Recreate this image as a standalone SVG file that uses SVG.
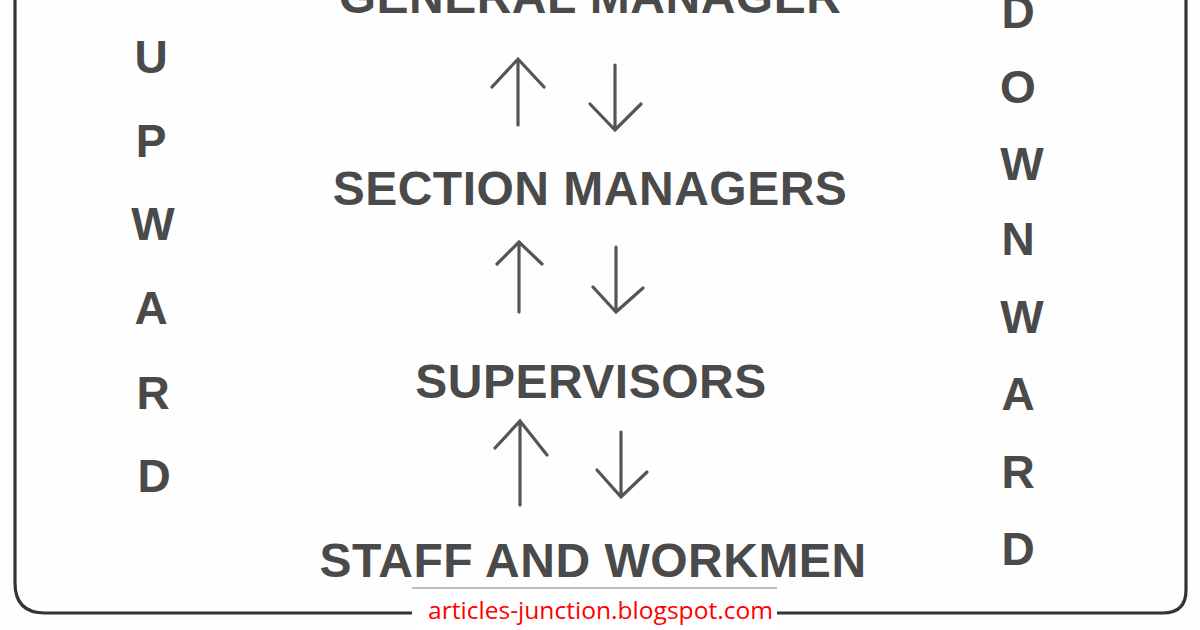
<svg xmlns="http://www.w3.org/2000/svg" width="1200" height="630" viewBox="0 0 1200 630">
<style>
.lvl{font-family:"Liberation Sans",Arial,sans-serif;font-weight:bold;font-size:48px;letter-spacing:0.5px;fill:#4a4a4a;text-anchor:middle}
.side{font-family:"Liberation Sans",Arial,sans-serif;font-weight:bold;font-size:46px;fill:#4a4a4a;text-anchor:middle}
.arr{fill:none;stroke:#555;stroke-width:3.2;stroke-linecap:round;stroke-linejoin:miter}
.frame{fill:none;stroke:#333;stroke-width:3.2}
.wm{font-family:"Open Sans","Liberation Sans",sans-serif;font-size:23px;fill:#ff0000}
</style>
<rect width="1200" height="630" fill="#fefefe"/>
<g id="frame">
<path class="frame" d="M15,0 V583 Q15,613 45,613 H1163 Q1186,613 1186,590 V0"/>
</g>
<g id="general-manager"><text class="lvl" x="590" y="13">GENERAL MANAGER</text></g>
<g id="section-managers"><text class="lvl" x="590" y="205">SECTION MANAGERS</text></g>
<g id="supervisors"><text class="lvl" x="591" y="398">SUPERVISORS</text></g>
<g id="staff-workmen"><text class="lvl" x="593" y="577">STAFF AND WORKMEN</text></g>
<g id="upward">
<text class="side" x="151" y="73">U</text>
<text class="side" x="151" y="157">P</text>
<text class="side" x="153" y="240">W</text>
<text class="side" x="151" y="324">A</text>
<text class="side" x="153" y="409">R</text>
<text class="side" x="154" y="492">D</text>
</g>
<g id="downward">
<text class="side" x="1018" y="28">D</text>
<text class="side" x="1018" y="103">O</text>
<text class="side" x="1022" y="180">W</text>
<text class="side" x="1018" y="255">N</text>
<text class="side" x="1022" y="333">W</text>
<text class="side" x="1018" y="410">A</text>
<text class="side" x="1018" y="488">R</text>
<text class="side" x="1018" y="565">D</text>
</g>
<g id="connectors">
<path class="arr" d="M518,125 V59 M492,87 L518,59 L544,87"/>
<path class="arr" d="M615,65 V130 M590,104 L615,130 L641,104"/>
<path class="arr" d="M519,312 V242 M497,264 L519,242 L542,264"/>
<path class="arr" d="M616,247 V312 M593,287 L616,312 L643,288"/>
<path class="arr" d="M520,505 V421 M495,448 L520,421 L547,455"/>
<path class="arr" d="M621,432 V497 M597,470 L621,497 L647,472"/>
</g>
<g id="watermark">
<rect x="412" y="588" width="365" height="42" fill="#ffffff"/>
<rect x="412" y="587" width="365" height="2" fill="#bdbdbd"/>
<text class="wm" x="428" y="619" textLength="345" lengthAdjust="spacingAndGlyphs">articles-junction.blogspot.com</text>
</g>
</svg>
